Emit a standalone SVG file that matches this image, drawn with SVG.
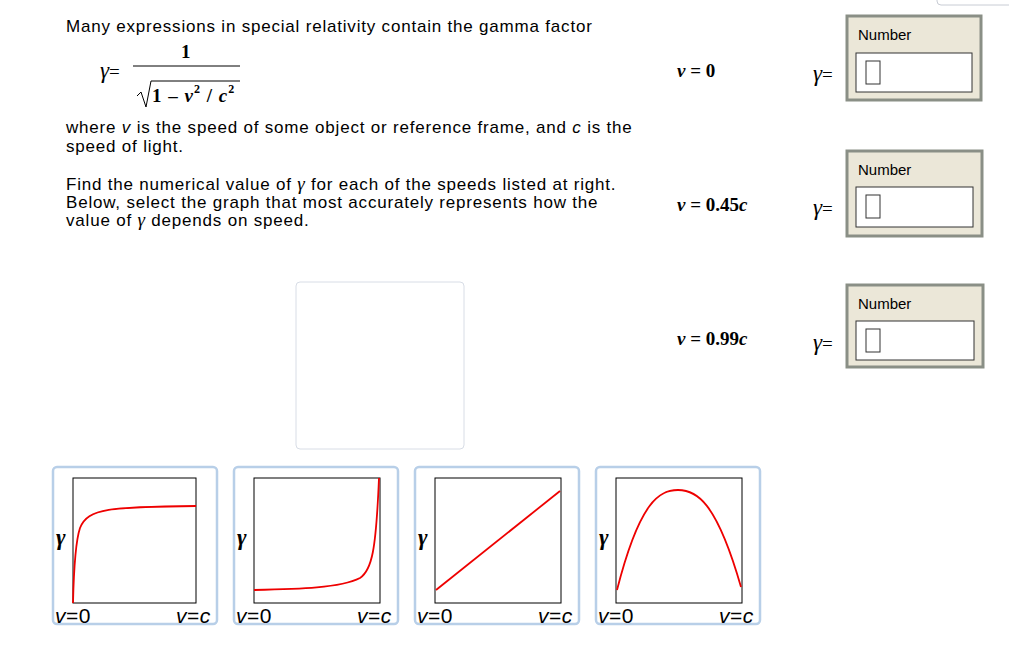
<svg xmlns="http://www.w3.org/2000/svg" width="1009" height="658" viewBox="0 0 1009 658">
<style>
.t{font-family:"Liberation Sans",Arial,sans-serif;font-size:17px;letter-spacing:0.8px;fill:#000}
.n{font-family:"Liberation Sans",Arial,sans-serif;font-size:15px;fill:#000}
.m{font-family:"Liberation Serif","Times New Roman",serif;font-weight:bold;font-size:19px}
.g{font-family:"Liberation Serif","Times New Roman",serif;font-style:italic;font-size:23px}
.nb{fill:#ebe7d8;stroke:#8a8f86;stroke-width:3}
.in{fill:#fff;stroke:#333;stroke-width:1}
.card{fill:#fff;stroke:#b8cfe8;stroke-width:2.5}
.plot{fill:#fff;stroke:#000;stroke-width:1}
.c{fill:none;stroke:#e00;stroke-width:1.8}
.ax{font-family:"Liberation Sans",Arial,sans-serif;font-size:21px;letter-spacing:0.5px;fill:#000}
</style>
<rect width="1009" height="658" fill="#fff"/>
<rect x="937" y="-10" width="90" height="15" rx="4" fill="#fff" stroke="#c8ccd4"/>
<g id="text">
<text class="t" x="66" y="32">Many expressions in special relativity contain the gamma factor</text>
<text class="g" x="100" y="78">γ<tspan font-style="normal" font-size="19">=</tspan></text>
<text class="m" x="181" y="58" font-size="20">1</text>
<line x1="133" y1="66" x2="240" y2="66" stroke="#000"/>
<path d="M137 96 L141 92 L146 107 L151 81 L240 81" fill="none" stroke="#000"/>
<text class="m" x="152" y="102" font-size="21" letter-spacing="1">1 – <tspan font-style="italic">v</tspan><tspan font-size="12" dy="-9">2</tspan><tspan dy="9"> / </tspan><tspan font-style="italic">c</tspan><tspan font-size="12" dy="-9">2</tspan></text>
<text class="t" x="66" y="133">where <tspan font-style="italic">v</tspan> is the speed of some object or reference frame, and <tspan font-style="italic">c</tspan> is the</text>
<text class="t" x="66" y="152">speed of light.</text>
<text class="t" x="66" y="190">Find the numerical value of <tspan font-family="Liberation Serif" font-style="italic" font-size="19">γ</tspan> for each of the speeds listed at right.</text>
<text class="t" x="66" y="208">Below, select the graph that most accurately represents how the</text>
<text class="t" x="66" y="226">value of <tspan font-family="Liberation Serif" font-style="italic" font-size="19">γ</tspan> depends on speed.</text>
</g>
<g id="speeds">
<text class="m" x="677" y="77"><tspan font-style="italic">v</tspan> = 0</text>
<text class="m" x="677" y="211"><tspan font-style="italic">v</tspan> = 0.45<tspan font-style="italic">c</tspan></text>
<text class="m" x="677" y="345"><tspan font-style="italic">v</tspan> = 0.99<tspan font-style="italic">c</tspan></text>
</g>
<g id="input1">
<text class="g" x="813" y="81">γ<tspan font-style="normal" font-size="19">=</tspan></text>
<rect class="nb" x="847" y="16" width="134" height="84"/>
<text class="n" x="858" y="40">Number</text>
<rect class="in" x="856" y="53" width="116" height="39"/>
<rect x="866" y="61" width="14" height="23" fill="none" stroke="#333"/>
</g>
<g id="input2">
<text class="g" x="813" y="215">γ<tspan font-style="normal" font-size="19">=</tspan></text>
<rect class="nb" x="847" y="151" width="135" height="85"/>
<text class="n" x="858" y="175">Number</text>
<rect class="in" x="856" y="187" width="117" height="40"/>
<rect x="866" y="195" width="14" height="23" fill="none" stroke="#333"/>
</g>
<g id="input3">
<text class="g" x="813" y="350">γ<tspan font-style="normal" font-size="19">=</tspan></text>
<rect class="nb" x="847" y="285" width="136" height="82"/>
<text class="n" x="858" y="309">Number</text>
<rect class="in" x="856" y="321" width="118" height="39"/>
<rect x="866" y="329" width="14" height="23" fill="none" stroke="#333"/>
</g>
<g id="dropzone"><rect x="296" y="282" width="168" height="167" rx="4" fill="#fff" stroke="#d8dde6"/></g>
<g id="graph1">
<rect class="card" x="53" y="467" width="164" height="157" rx="4"/>
<rect class="plot" x="73" y="478" width="123" height="125"/>
<path class="c" d="M73 603 C74 560 76 540 80 528 C88 508 110 507 196 506"/>
<text class="g" x="56" y="545" font-weight="bold">γ</text>
<text class="ax" x="55" y="623"><tspan font-style="italic">v</tspan>=0</text>
<text class="ax" x="176" y="623"><tspan font-style="italic">v</tspan>=<tspan font-style="italic">c</tspan></text>
</g>
<g id="graph2">
<rect class="card" x="234" y="467" width="164" height="157" rx="4"/>
<rect class="plot" x="254" y="478" width="126" height="125"/>
<path class="c" d="M254 590 C300 589 340 588 360 578 C372 570 376 550 379 478"/>
<text class="g" x="237" y="545" font-weight="bold">γ</text>
<text class="ax" x="236" y="623"><tspan font-style="italic">v</tspan>=0</text>
<text class="ax" x="357" y="623"><tspan font-style="italic">v</tspan>=<tspan font-style="italic">c</tspan></text>
</g>
<g id="graph3">
<rect class="card" x="415" y="467" width="164" height="157" rx="4"/>
<rect class="plot" x="435" y="478" width="126" height="125"/>
<path class="c" d="M436 590 L560 491"/>
<text class="g" x="418" y="545" font-weight="bold">γ</text>
<text class="ax" x="417" y="623"><tspan font-style="italic">v</tspan>=0</text>
<text class="ax" x="538" y="623"><tspan font-style="italic">v</tspan>=<tspan font-style="italic">c</tspan></text>
</g>
<g id="graph4">
<rect class="card" x="596" y="467" width="164" height="157" rx="4"/>
<rect class="plot" x="616" y="478" width="126" height="125"/>
<path class="c" d="M617 590 C640 500 660 490 678 490 C696 490 716 500 741 587"/>
<text class="g" x="599" y="545" font-weight="bold">γ</text>
<text class="ax" x="598" y="623"><tspan font-style="italic">v</tspan>=0</text>
<text class="ax" x="719" y="623"><tspan font-style="italic">v</tspan>=<tspan font-style="italic">c</tspan></text>
</g>
</svg>
